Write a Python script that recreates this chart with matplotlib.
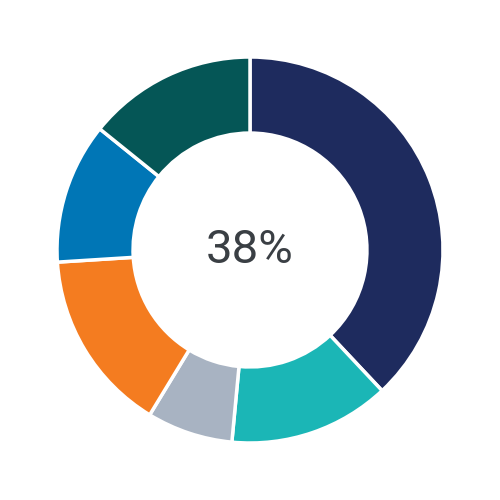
import matplotlib
matplotlib.use('Agg')
import matplotlib.pyplot as plt

# Anteile (im Uhrzeigersinn ab 12 Uhr)
labels = ["A", "B", "C", "D", "E", "F"]
shares = [38, 13.5, 7.2, 15.3, 11.8, 14.2]
colors = ["#1e2b5e", "#1bb6b6", "#a8b3c2", "#f47c20", "#0076b6", "#055656"]
center_text = "38%"

fig = plt.figure(figsize=(5, 5), dpi=100)
ax = fig.add_axes([0, 0, 1, 1])

ax.pie(shares, colors=colors, startangle=90, counterclock=False,
       radius=1.0,
       wedgeprops=dict(width=0.394, edgecolor="white", linewidth=2.5))

ax.text(0, 0.0, center_text, ha="center", va="center", fontsize=34,
        color="#3a3f44", family=["Roboto", "DejaVu Sans"])

lim = 250 / 193
ax.set_xlim(-lim, lim)
ax.set_ylim(-lim, lim)
ax.set_aspect("equal")
ax.axis("off")

fig.savefig("out.png", facecolor="white")
